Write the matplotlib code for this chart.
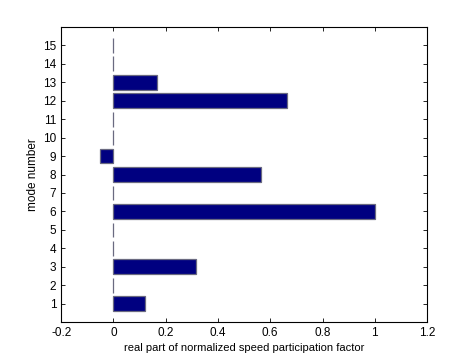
import matplotlib.pyplot as plt

plt.rcParams['font.family'] = ['Liberation Sans', 'DejaVu Sans']

modes = list(range(1, 16))
factor = [0.12, 0, 0.315, 0, 0, 1.0, 0, 0.565, -0.052, 0, 0, 0.665, 0.168, 0, 0]

fig = plt.figure(figsize=(4.74, 3.64), dpi=100)
ax = fig.add_axes([0.129, 0.115, 0.772, 0.811])

ax.barh(modes, factor, height=0.8, color='#000080', edgecolor='#6a6a80', linewidth=0.9)

ax.set_xlim(-0.2, 1.2)
ax.set_ylim(0, 16)
ax.set_xticks([-0.2, 0, 0.2, 0.4, 0.6, 0.8, 1, 1.2])
ax.set_xticklabels(['-0.2', '0', '0.2', '0.4', '0.6', '0.8', '1', '1.2'])
ax.set_yticks(modes)
ax.tick_params(direction='in', top=True, right=True, labelsize=8.5, length=3, width=0.6)
for s in ax.spines.values():
    s.set_linewidth(0.8)

ax.set_xlabel('real part of normalized speed participation factor', fontsize=8, labelpad=3)
ax.set_ylabel('mode number', fontsize=8.5, labelpad=3)

fig.savefig('out.png', dpi=100)
